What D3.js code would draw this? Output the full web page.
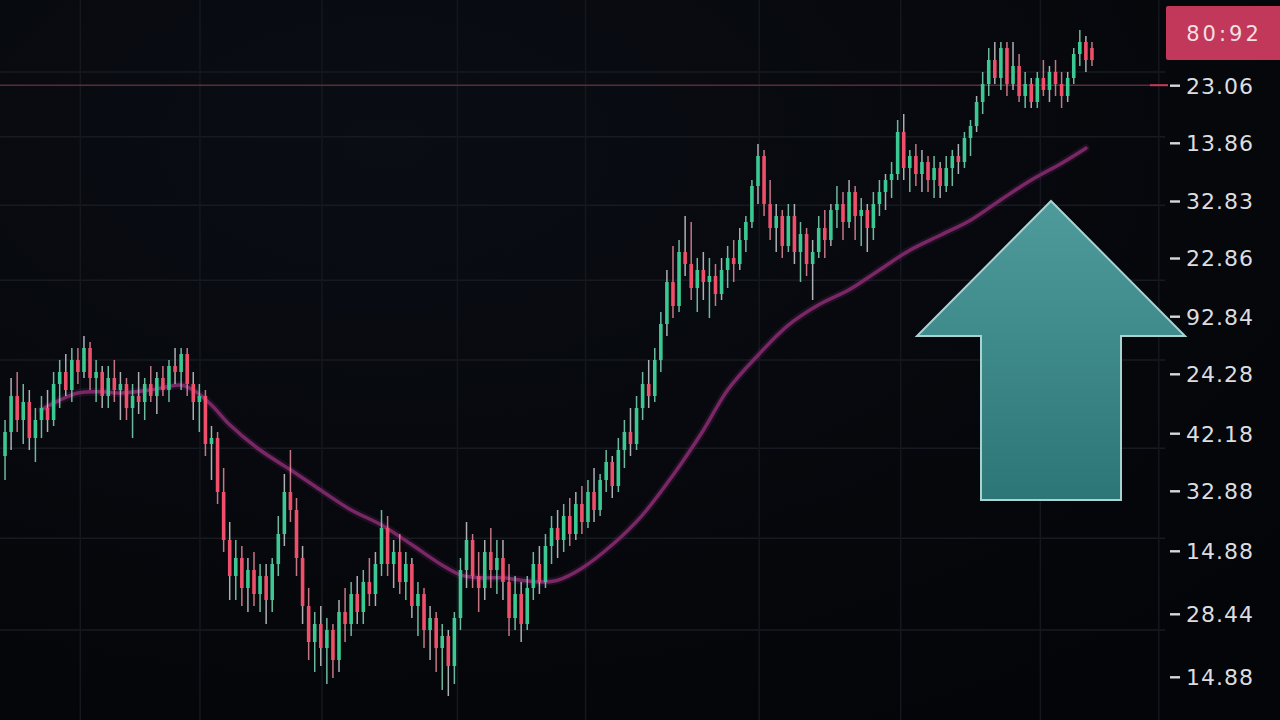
<!DOCTYPE html>
<html><head><meta charset="utf-8">
<script src="https://cdn.jsdelivr.net/npm/d3@7"></script>
<style>html,body{margin:0;padding:0;background:#05070b;overflow:hidden}</style>
</head><body>
<svg id="chart" width="1280" height="720"></svg>
<script>
// ---- data ----
// candles: [open, high, low, close]
const candles = [
[44,50,40,48],[48,57,45,54],[54,58,48,50],[50,56,46,53],[53,55,45,47],[47,52,43,50],[50,54,47,52],[52,55,48,50],
[50,58,49,56],[56,60,52,58],[58,61,54,55],[55,62,53,60],[60,62,56,58],[58,64,57,62],[62,63,55,57],[57,60,53,58],
[58,59,52,54],[54,59,52,57],[57,60,53,55],[55,58,50,56],[56,57,50,52],[52,56,47,54],[54,58,51,53],[53,57,50,56],
[56,59,53,54],[54,58,51,57],[57,59,54,55],[55,60,53,59],[59,62,56,58],[58,62,55,61],[61,62,54,56],[56,58,50,53],
[53,56,48,54],[54,55,44,46],[46,49,40,47],[47,48,36,38],[38,42,28,30],[30,33,20,24],[24,30,20,27],[27,29,19,22],
[22,27,18,25],[25,28,19,21],[21,26,18,24],[24,26,16,20],[20,27,18,26],[26,34,24,31],[31,41,29,38],[38,45,33,35],
[35,37,24,27],[27,29,16,19],[19,22,10,13],[13,18,8,16],[16,19,9,12],[12,17,6,15],[15,16,7,10],[10,20,8,18],
[18,22,13,16],[16,23,14,21],[21,24,16,18],[18,25,16,23],[23,27,19,21],[21,28,19,26],[26,35,24,32],[32,34,24,26],
[26,30,22,28],[28,31,21,23],[23,28,20,26],[26,27,17,19],[19,23,14,21],[21,22,12,15],[15,19,10,17],[17,18,8,12],
[12,16,5,14],[14,15,4,9],[9,18,6,17],[17,27,15,25],[25,33,22,30],[30,31,22,24],[24,28,18,22],[22,30,20,28],
[28,32,22,25],[25,30,21,27],[27,30,20,23],[23,26,14,17],[17,24,15,21],[21,23,13,16],[16,24,15,22],[22,28,20,26],
[26,29,21,23],[23,31,22,29],[29,34,26,32],[32,35,27,30],[30,36,28,34],[34,37,29,31],[31,38,30,36],[36,39,31,33],
[33,40,32,38],[38,42,33,35],[35,41,34,40],[40,45,38,43],[43,44,37,39],[39,47,38,45],[45,50,42,48],[48,52,44,46],
[46,54,45,52],[52,58,50,56],[56,60,52,54],[54,62,53,60],[60,68,58,66],[66,75,64,73],[73,79,67,69],[69,80,68,78],
[78,84,74,76],[76,83,70,72],[72,77,68,75],[75,78,70,73],[73,77,67,74],[74,76,69,71],[71,77,70,75],[75,79,72,77],
[77,80,73,76],[76,82,75,80],[80,84,78,83],[83,90,82,89],[89,96,86,94],[94,95,84,86],[86,90,80,82],[82,86,78,84],
[84,85,77,79],[79,86,78,84],[84,86,76,78],[78,83,73,81],[81,82,74,76],[76,80,70,78],[78,84,77,82],[82,85,77,80],
[80,86,79,85],[85,89,82,86],[86,88,80,83],[83,90,82,88],[88,89,80,84],[84,87,79,85],[85,86,78,82],[82,88,80,86],
[86,90,84,88],[88,91,85,90],[90,93,87,91],[91,100,90,98],[98,101,90,92],[92,95,88,94],[94,96,89,91],[91,95,88,93],
[93,94,88,90],[90,94,87,92],[92,93,87,89],[89,94,88,92],[92,95,89,94],[94,96,91,93],[93,98,92,97],[97,100,94,99],
[99,104,98,103],[103,108,101,106],[106,112,104,110],[110,113,106,107],[107,113,105,112],[112,113,104,106],[106,113,105,109],[109,111,103,104],
[104,108,102,106],[106,107,102,103],[103,108,102,107],[107,110,104,105],[105,109,103,108],[108,110,104,106],[106,108,102,104],[104,108,103,107],
[107,112,106,111],[111,115,109,113],[113,114,108,110],[112,113,109,110]
];
// moving average: candle index and value
const maIndex = [6,9,12,16,19,24,29,31,34,37,42,47,52,57,62,67,72,75,78,82,85,88,91,95,100,105,110,115,119,124,129,134,139,144,149,154,159,164,169,174,178];
const maValue = [51.7,53.3,54.5,54.7,54.5,55,55.8,55,52.5,49.2,45,41.7,38.3,35,32.5,29.2,25.8,24.2,23.7,23.7,23.3,23,23.3,25.3,29.2,34.2,40.8,48.3,55,60.8,65.8,69.2,71.7,75,78.3,80.8,83.3,86.7,90,92.8,95.3];
// right axis
const tickValues = [105.8,96.2,86.5,77,67.3,57.7,47.8,38.2,28.2,17.7,7.2];
const tickLabels = ["23.06","13.86","32.83","22.86","92.84","24.28","42.18","32.88","14.88","28.44","14.88"];
const lastPrice = 105.8;
const tagLabel = "80:92";
// grid
const gridValues = [108,97.2,85.8,73.3,60,45.3,30.3,15];
const gridIndex = [12.4,32.1,52.2,74.5,95.6,124.2,147.5,170.5,190];

// ---- drawing ----
const W = 1280, H = 720;
const svg = d3.select("#chart");
const x = d3.scaleBand().domain(d3.range(candles.length)).range([2, 1095]).paddingInner(0);
const xc = i => Number.isInteger(i) && i < candles.length ? x(i) + x.bandwidth()/2 : 2 + x.step()*(i+0.5);
const y = d3.scaleLinear().domain([0,120]).range([720,0]);

const defs = svg.append("defs");
const bg = defs.append("radialGradient").attr("id","bgg").attr("cx","0.3").attr("cy","0.2").attr("r","0.9");
bg.append("stop").attr("offset","0").attr("stop-color","#0a0d14");
bg.append("stop").attr("offset","1").attr("stop-color","#040508");
svg.append("rect").attr("width",W).attr("height",H).attr("fill","url(#bgg)");

// grid
const g = svg.append("g");
g.selectAll(".gh").data(gridValues).join("line")
  .attr("x1",0).attr("x2",1165).attr("y1",d=>y(d)).attr("y2",d=>y(d))
  .attr("stroke","#171b21").attr("stroke-width",1.5);
g.selectAll(".gv").data(gridIndex).join("line")
  .attr("x1",d=>xc(d)).attr("x2",d=>xc(d)).attr("y1",0).attr("y2",H)
  .attr("stroke","#14181e").attr("stroke-width",1.5);

// last price line
svg.append("line").attr("x1",0).attr("x2",1168).attr("y1",y(lastPrice)).attr("y2",y(lastPrice))
  .attr("stroke","#5a2c35").attr("stroke-width",1.6);

// MA line with glow
const maData = maIndex.map((d,i)=>[d,maValue[i]]);
const line = d3.line().x(d=>xc(d[0])).y(d=>y(d[1])).curve(d3.curveCatmullRom.alpha(0.5));
svg.append("path").datum(maData).attr("d",line).attr("fill","none")
  .attr("stroke","#8a2a78").attr("stroke-width",8).attr("stroke-opacity",0.18).attr("stroke-linecap","round");
svg.append("path").datum(maData).attr("d",line).attr("fill","none")
  .attr("stroke","#7a2766").attr("stroke-width",3.5).attr("stroke-linecap","round");

// candles
const up = "#3cc892", dn = "#ee4f6b";
const cg = svg.append("g");
const bw = 3.6;
cg.selectAll(".wick").data(candles).join("line")
  .attr("x1",(d,i)=>xc(i)).attr("x2",(d,i)=>xc(i))
  .attr("y1",d=>y(d[1])).attr("y2",d=>y(d[2]))
  .attr("stroke",(d,i)=> i%3===1 ? "#c9cdd0" : (d[3]>=d[0] ? "#7fd8b6" : "#e58a9a"))
  .attr("stroke-width",1.5).attr("stroke-opacity",0.85);
cg.selectAll(".body").data(candles).join("rect")
  .attr("x",(d,i)=>xc(i)-bw/2).attr("width",bw)
  .attr("y",d=>y(Math.max(d[0],d[3])))
  .attr("height",d=>Math.max(1.5, Math.abs(y(d[0])-y(d[3]))))
  .attr("fill",d=>d[3]>=d[0]?up:dn);

// right axis
const axis = d3.axisRight(y).tickValues(tickValues).tickSize(10).tickPadding(6)
  .tickFormat((d,i)=>tickLabels[i]);
const ag = svg.append("g").attr("transform","translate(1170,0)").call(axis);
ag.select(".domain").remove();
ag.selectAll(".tick line").attr("stroke","#d6d8da").attr("stroke-width",2.4);
ag.selectAll(".tick text").attr("fill","#dcdde0").attr("font-family","DejaVu Sans, Liberation Sans, sans-serif")
  .attr("font-size",22).attr("letter-spacing","1px").attr("dy","0.36em");
// red tick on last price
svg.append("line").attr("x1",1150).attr("x2",1168).attr("y1",y(lastPrice)).attr("y2",y(lastPrice))
  .attr("stroke","#c23a56").attr("stroke-width",2);

// price tag
svg.append("rect").attr("x",1166).attr("y",6).attr("width",120).attr("height",54).attr("rx",2).attr("fill","#c2385a");
svg.append("text").attr("x",1224).attr("y",33).attr("dy","0.36em").attr("text-anchor","middle")
  .attr("fill","#f3dfe4").attr("font-family","DejaVu Sans, sans-serif").attr("font-size",21)
  .attr("letter-spacing","3px").text(tagLabel);

// arrow annotation
const ag2 = defs.append("linearGradient").attr("id","arr").attr("x1",0).attr("y1",0).attr("x2",0).attr("y2",1);
ag2.append("stop").attr("offset","0").attr("stop-color","#4f9b9c");
ag2.append("stop").attr("offset","1").attr("stop-color","#2c7677");
const arrowPts = [[1051,201],[1185,336],[1121,336],[1121,500],[981,500],[981,336],[917,336]];
svg.append("polygon").attr("points",arrowPts.map(p=>p.join(",")).join(" "))
  .attr("fill","url(#arr)").attr("stroke","#a9d2d2").attr("stroke-width",2).attr("stroke-linejoin","miter");
</script>
</body></html>
